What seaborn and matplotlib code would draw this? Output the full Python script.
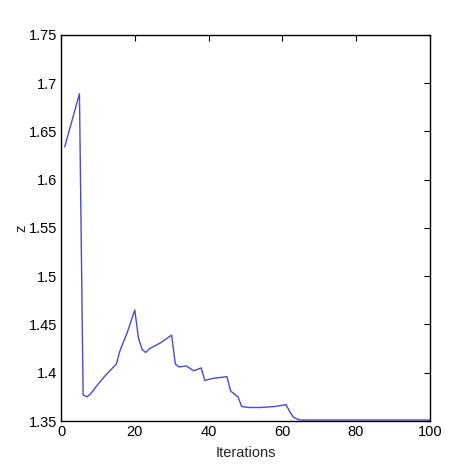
import numpy as np
import pandas as pd
import matplotlib
matplotlib.use("Agg")
import matplotlib.pyplot as plt
import seaborn as sns

iters = [1, 5, 6, 7, 8, 10, 12, 15, 16, 18, 20, 21, 22, 23, 24, 27, 30, 31, 32, 34,
         36, 38, 39, 41, 45, 46, 48, 49, 51, 54, 58, 61, 62, 63, 64, 65, 66, 70, 80, 90, 100]
z = [1.634, 1.689, 1.377, 1.375, 1.378, 1.388, 1.397, 1.409, 1.423, 1.442, 1.465, 1.436,
     1.424, 1.421, 1.425, 1.431, 1.439, 1.409, 1.406, 1.407, 1.402, 1.405, 1.392, 1.394,
     1.396, 1.381, 1.375, 1.365, 1.364, 1.364, 1.365, 1.367, 1.360, 1.354, 1.352, 1.351,
     1.351, 1.351, 1.351, 1.351, 1.351]

df = pd.DataFrame({"Iterations": iters, "z": z})

sns.set_style("white")
plt.rcParams['font.family'] = ['Liberation Sans', 'DejaVu Sans']

fig = plt.figure(figsize=(4.74, 4.74), dpi=100)
ax = fig.add_axes([0.1287, 0.1118, 0.778, 0.8145])
sns.lineplot(data=df, x="Iterations", y="z", ax=ax, color="#4a4ad0", linewidth=1.0)

ax.set_xlim(0, 100)
ax.set_ylim(1.35, 1.75)
ax.set_xticks([0, 20, 40, 60, 80, 100])
ax.set_yticks([1.35, 1.4, 1.45, 1.5, 1.55, 1.6, 1.65, 1.7, 1.75])
ax.set_yticklabels(["1.35", "1.4", "1.45", "1.5", "1.55", "1.6", "1.65", "1.7", "1.75"])
ax.tick_params(direction="in", top=True, right=True, length=4, width=0.8,
               labelsize=10.5, colors="black", pad=3)
for s in ax.spines.values():
    s.set_visible(True)
    s.set_color("black")
    s.set_linewidth(1.0)
ax.set_xlabel("Iterations", fontsize=10.5)
ax.set_ylabel("z", fontsize=10.5)
ax.xaxis.set_label_coords(0.5, -0.066)
ax.yaxis.set_label_coords(-0.089, 0.5)

fig.savefig("out.png", dpi=100)
